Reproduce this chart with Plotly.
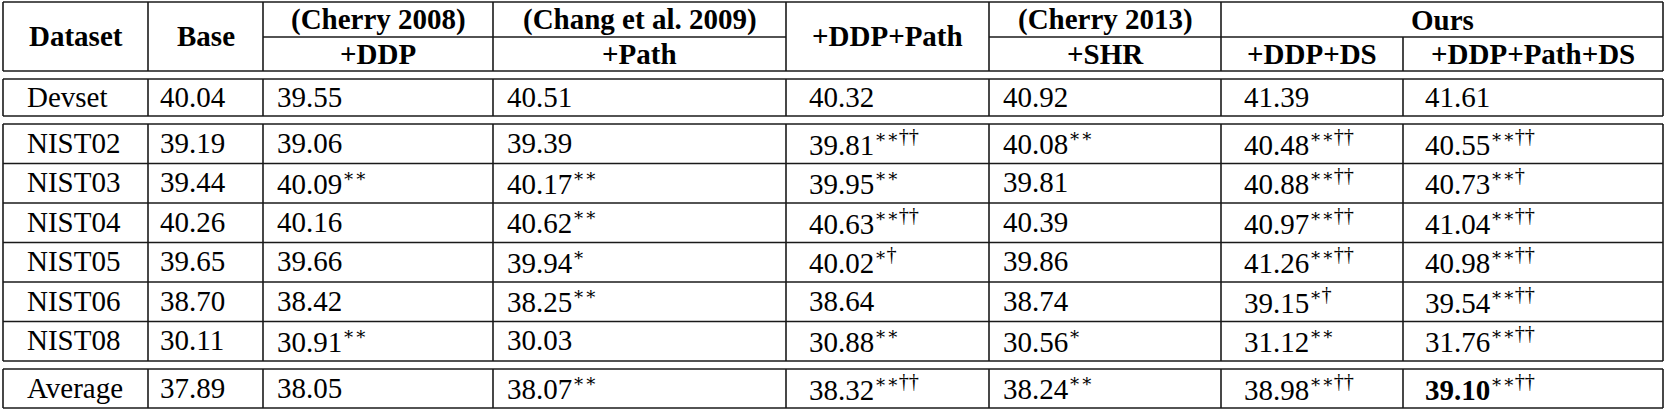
import plotly.graph_objects as go

# table data
datasets = ['Devset', 'NIST02', 'NIST03', 'NIST04', 'NIST05', 'NIST06', 'NIST08', 'Average']
base = [40.04, 39.19, 39.44, 40.26, 39.65, 38.70, 30.11, 37.89]
ddp = [39.55, 39.06, 40.09, 40.16, 39.66, 38.42, 30.91, 38.05]
ddp_sig = ['', '', '**', '', '', '', '**', '']
path = [40.51, 39.39, 40.17, 40.62, 39.94, 38.25, 30.03, 38.07]
path_sig = ['', '', '**', '**', '*', '**', '', '**']
ddp_path = [40.32, 39.81, 39.95, 40.63, 40.02, 38.64, 30.88, 38.32]
ddp_path_sig = ['', '**††', '**', '**††', '*†', '', '**', '**††']
shr = [40.92, 40.08, 39.81, 40.39, 39.86, 38.74, 30.56, 38.24]
shr_sig = ['', '**', '', '', '', '', '*', '**']
ddp_ds = [41.39, 40.48, 40.88, 40.97, 41.26, 39.15, 31.12, 38.98]
ddp_ds_sig = ['', '**††', '**††', '**††', '**††', '*†', '**', '**††']
ddp_path_ds = [41.61, 40.55, 40.73, 41.04, 40.98, 39.54, 31.76, 39.10]
ddp_path_ds_sig = ['', '**††', '**†', '**††', '**††', '**††', '**††', '**††']
bold_cells = [(7, 7)]  # (row, column) printed in bold

header_top = ['', '', '(Cherry 2008)', '(Chang et al. 2009)', '', '(Cherry 2013)', 'Ours']
header_bottom = ['', '', '+DDP', '+Path', '', '+SHR', '+DDP+DS', '+DDP+Path+DS']
header_full = ['Dataset', 'Base', '', '', '+DDP+Path']

# geometry (pixels)
W, H = 1668, 412
col_x = [3, 148, 263, 493, 786, 989, 1221, 1403, 1663]
pad = [22, 10, 12, 12, 21, 12, 21, 20]
head = (2, 71)
mid_y = 37
boxes = [(79, 116), (124, 361), (369, 408)]
groups = [[0], [1, 2, 3, 4, 5, 6], [7]]

FONT = 'Liberation Serif, Times New Roman, serif'
FS = 29
LINE = dict(color='#1a1a1a', width=1.6)

shapes = []
annotations = []


def hline(x0, x1, y):
    shapes.append(dict(type='line', x0=x0, x1=x1, y0=y, y1=y, line=LINE))


def vline(x, y0, y1):
    shapes.append(dict(type='line', x0=x, x1=x, y0=y0, y1=y1, line=LINE))


def text(x, y, s, anchor='left', bold=False):
    if bold:
        s = '<b>' + s + '</b>'
    annotations.append(dict(x=x, y=y, text=s, xanchor=anchor, yanchor='middle',
                            showarrow=False, font=dict(family=FONT, size=FS, color='black')))


def marks(sig):
    # significance marks as a small superscript, math-style asterisks
    out = ''
    for ch in sig:
        if ch == '*':
            out += '<span style="font-size:18px;font-family:DejaVu Serif">∗</span>'
        else:
            out += ch
    return '<sup>' + out + '</sup>'


# header box
hline(col_x[0], col_x[-1], head[0])
hline(col_x[0], col_x[-1], head[1])
hline(col_x[2], col_x[4], mid_y)
hline(col_x[5], col_x[-1], mid_y)
for i, x in enumerate(col_x):
    if i == 7:
        vline(x, mid_y, head[1])
    else:
        vline(x, head[0], head[1])

for i, s in enumerate(header_full):
    if s:
        text((col_x[i] + col_x[i + 1]) / 2, (head[0] + head[1]) / 2 - 1, s, 'center', True)
for i, s in enumerate(header_top):
    if s:
        right = col_x[-1] if i == 6 else col_x[i + 1]
        text((col_x[i] + right) / 2, (head[0] + mid_y) / 2, s, 'center', True)
for i, s in enumerate(header_bottom):
    if s:
        text((col_x[i] + col_x[i + 1]) / 2, (mid_y + head[1]) / 2, s, 'center', True)

# body boxes
for (y0, y1), rows in zip(boxes, groups):
    hline(col_x[0], col_x[-1], y0)
    hline(col_x[0], col_x[-1], y1)
    for x in col_x:
        vline(x, y0, y1)
    rh = (y1 - y0) / len(rows)
    for k in range(1, len(rows)):
        hline(col_x[0], col_x[-1], y0 + k * rh)

columns = [(base, None), (ddp, ddp_sig), (path, path_sig), (ddp_path, ddp_path_sig),
           (shr, shr_sig), (ddp_ds, ddp_ds_sig), (ddp_path_ds, ddp_path_ds_sig)]

for (y0, y1), rows in zip(boxes, groups):
    rh = (y1 - y0) / len(rows)
    for k, r in enumerate(rows):
        yc = y0 + (k + 0.5) * rh - 1
        text(col_x[0] + pad[0], yc, datasets[r])
        for c, (vals, sig) in enumerate(columns, start=1):
            s = '%.2f' % vals[r]
            if (r, c) in bold_cells:
                s = '<b>' + s + '</b>'
            if sig and sig[r]:
                s += marks(sig[r])
            text(col_x[c] + pad[c], yc, s)

fig = go.Figure()
fig.update_layout(
    width=W, height=H,
    margin=dict(l=0, r=0, t=0, b=0),
    paper_bgcolor='white', plot_bgcolor='white',
    xaxis=dict(range=[0, W], visible=False, fixedrange=True),
    yaxis=dict(range=[H, 0], visible=False, fixedrange=True),
    shapes=shapes, annotations=annotations,
    showlegend=False,
)

fig.write_html('out.html', config={'displayModeBar': False},
               post_script="document.body.style.margin='0';document.body.style.overflow='hidden';")
